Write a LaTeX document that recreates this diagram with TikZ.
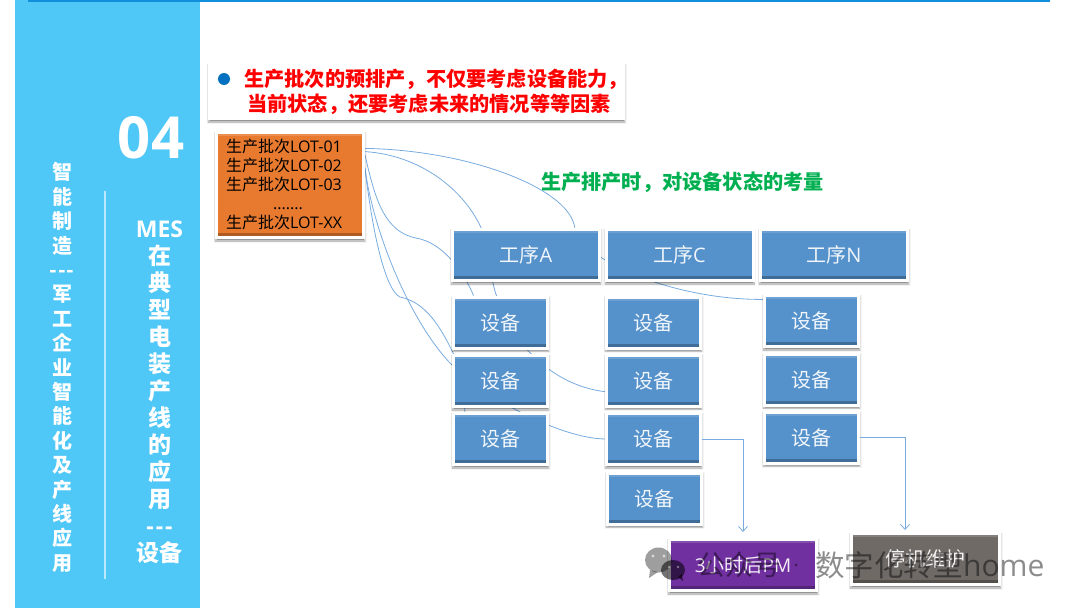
\documentclass[tikz,border=0pt]{standalone}
\usepackage{fontspec}
\setmainfont{Open Sans}
\newfontfamily\cjk{Noto Sans CJK SC}
\usetikzlibrary{arrows.meta,shadows,backgrounds}
\definecolor{sidecol}{HTML}{4FC7F7}
\definecolor{barcol}{HTML}{1090DC}
\definecolor{bluebox}{HTML}{5591CA}
\definecolor{orangebox}{HTML}{E87A30}
\definecolor{purplebox}{HTML}{7030A0}
\definecolor{greybox}{HTML}{6F6A66}
\definecolor{linkcol}{HTML}{78ACE0}
\definecolor{bulletcol}{HTML}{0070C0}
\definecolor{greentext}{HTML}{00B050}
\tikzset{
  softshadow/.style={
    general shadow={fill=black, draw=black, line width=6pt, opacity=.04, shadow xshift=0pt, shadow yshift=-2pt},
    general shadow={fill=black, draw=black, line width=4.5pt, opacity=.07, shadow xshift=0pt, shadow yshift=-2pt},
    general shadow={fill=black, draw=black, line width=3pt, opacity=.14, shadow xshift=0pt, shadow yshift=-2.5pt}},
  bevelbox/.style={draw=white, line width=3pt, fill=#1, minimum height=51pt,
    text=white!92!#1, inner sep=0pt,
    font=\fontsize{20}{22}\selectfont, softshadow,
    path picture={
      \fill[#1!75!black] (path picture bounding box.south west) rectangle ([yshift=4.5pt]path picture bounding box.south east);
      \fill[#1!85!white] (path picture bounding box.north west) rectangle ([yshift=-3.5pt]path picture bounding box.north east);
    }},
  procbox/.style={bevelbox=bluebox, minimum width=147pt},
  devbox/.style={bevelbox=bluebox, minimum width=94pt},
  link/.style={draw=linkcol, line width=.8pt},
  sidetext/.style={text=white, align=center, inner sep=0pt},
}
\begin{document}
\begin{tikzpicture}[x=1pt, y=-1pt, >=Stealth]
\useasboundingbox (0,0) rectangle (1080,608);

% side panel
\fill[sidecol] (15,0) rectangle (200,608);
\fill[barcol] (28,0) rectangle (1050,2);
\draw[white!60!sidecol, line width=1.2pt] (105,191) -- (105,579);
\node[sidetext, font=\fontsize{58}{60}\selectfont\bfseries] (secnum) at (151,138) {04};
\node[sidetext, font=\fontsize{20}{24.4}\selectfont\cjk\bfseries, anchor=north] (sidea) at (62,162.5)
  {智\\能\\制\\造\\-\kern1pt-\kern1pt-\\军\\工\\企\\业\\智\\能\\化\\及\\产\\线\\应\\用};
\node[sidetext, font=\fontsize{23}{27}\selectfont\bfseries, anchor=north] (sideb) at (159.5,221)
  {MES\\{\cjk 在}\\{\cjk 典}\\{\cjk 型}\\{\cjk 电}\\{\cjk 装}\\{\cjk 产}\\{\cjk 线}\\{\cjk 的}\\{\cjk 应}\\{\cjk 用}\\-\kern2pt-\kern2pt-\\{\cjk 设备}};

% callout
\node[fill=white, draw=white, line width=3pt, minimum width=414pt, minimum height=54pt, inner sep=0pt, softshadow] (callout) at (416.5,91.5) {};
\fill[bulletcol] (224,79) circle (6pt);
\node[anchor=west, inner sep=0pt, align=left, text=red, font=\fontsize{20.2}{25}\selectfont\cjk\bfseries] (calltext) at (244,91.5)
  {生产批次的预排产，不仅要考虑设备能力，\\\hspace*{3pt}当前状态，还要考虑未来的情况等等因素};
\node[text=greentext, inner sep=0pt, font=\fontsize{20.2}{24}\selectfont\cjk\bfseries] (statetext) at (682.5,182)
  {生产排产时，对设备状态的考量};

% lots
\node[bevelbox=orangebox, minimum width=147pt, minimum height=105pt] (lot) at (290,185) {};
\node[anchor=west, inner sep=0pt, align=left, text=black, font=\fontsize{16}{19}\selectfont] (lottext) at (226,184)
  {{\cjk 生产批次}LOT-01\\{\cjk 生产批次}LOT-02\\{\cjk 生产批次}LOT-03\\\hspace*{47pt}.......\\{\cjk 生产批次}LOT-XX};

% processes
\node[procbox] (procA) at (526,255) {{\cjk 工序}A};
\node[procbox] (procC) at (679.5,255) {{\cjk 工序}C};
\node[procbox] (procN) at (834,255) {{\cjk 工序}N};

% equipment
\node[devbox] (devAa) at (500.5,322.5) {\cjk 设备};
\node[devbox] (devAb) at (500.5,381) {\cjk 设备};
\node[devbox] (devAc) at (500.5,439) {\cjk 设备};
\node[devbox] (devCa) at (653.5,322.5) {\cjk 设备};
\node[devbox] (devCb) at (653.5,380.5) {\cjk 设备};
\node[devbox] (devCc) at (653.5,439) {\cjk 设备};
\node[devbox] (devCd) at (654.5,498.5) {\cjk 设备};
\node[devbox] (devNa) at (811.5,321) {\cjk 设备};
\node[devbox] (devNb) at (811.5,379.5) {\cjk 设备};
\node[devbox] (devNc) at (811.5,437.5) {\cjk 设备};

% outcomes
\node[bevelbox=purplebox, minimum width=147pt, font=\fontsize{19}{22}\selectfont] (pmbox) at (743,565) {3{\cjk 小时后}PM};
\node[bevelbox=greybox, minimum width=148pt] (stopbox) at (925.5,559) {\cjk 停机维护};
\coordinate (stopin) at (905,530);

% links run behind the boxes
\begin{scope}[on background layer]
\draw[link] (lot.26) .. controls (470,150) and (575,190) .. (575,231)
  .. controls (590,265) and (680,300) .. (devNa.156);
\draw[link] (lot.24) .. controls (420,155) and (465,190) .. (482,230)
  .. controls (490,250) and (490,280) .. (497,297)
  .. controls (510,340) and (550,385) .. (devCb.193);
\draw[link] (lot.22) .. controls (375,200) and (385,232) .. (416,238)
  .. controls (445,243) and (465,275) .. (devAa.135);
\draw[link] (lot.13) .. controls (372,230) and (385,290) .. (400,297)
  .. controls (425,302) and (440,325) .. (455,357)
  .. controls (460,375) and (465,395) .. (devAc.143);
\draw[link] (lot.12) .. controls (375,240) and (415,330) .. (455,368)
  .. controls (490,400) and (560,438) .. (devCc.west);
\end{scope}
\draw[link, ->, >={Straight Barb[length=5pt,width=9pt]}, shorten >=6pt] (devCc.east) -| (pmbox.north);
\draw[link, ->, >={Straight Barb[length=5pt,width=9pt]}] (devNc.east) -| (stopin);

% watermark
\fill[black, opacity=.38] (658.5,560) ellipse (13.5pt and 12.5pt);
\fill[black, opacity=.38] (650,570) -- (649,578) -- (658,572) -- cycle;
\fill[white, opacity=.6] (653,556) circle (1.6pt) (664,556) circle (1.6pt);
\fill[black, opacity=.55] (673,570) ellipse (12pt and 10pt);
\fill[black, opacity=.55] (678,577) -- (683,581) -- (682,574) -- cycle;
\fill[white, opacity=.4] (669,567) circle (1.3pt) (678,567) circle (1.3pt);
\node[text=black, text opacity=.45, anchor=west, inner sep=0pt, font=\fontsize{28}{30}\selectfont\cjk] (wmone) at (697,565) {公众号};
\fill[black, opacity=.45] (796,565) circle (1.5pt);
\node[text=black, text opacity=.45, anchor=west, inner sep=0pt, font=\fontsize{29.5}{30}\selectfont\cjk] (wmtwo) at (815,565) {数字化转型};
\node[text=black, text opacity=.45, anchor=west, inner sep=0pt, font=\fontsize{30}{30}\selectfont] (wmthree) at (963,565) {home};
\end{tikzpicture}
\end{document}
